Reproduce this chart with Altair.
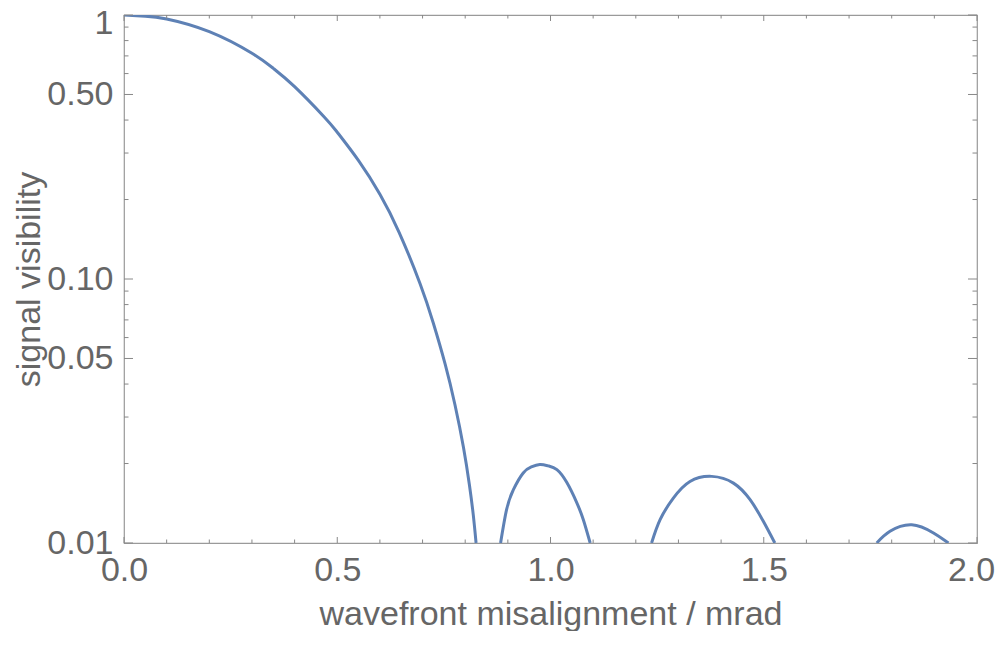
import altair as alt
import pandas as pd

# ---- data ----
main_x = [0.0, 0.05, 0.1, 0.2, 0.3, 0.35, 0.4, 0.47, 0.5, 0.55, 0.6, 0.645, 0.694, 0.725, 0.753, 0.776, 0.796, 0.81, 0.819, 0.8255]
main_y = [1.0, 0.9897, 0.9661, 0.865, 0.7161, 0.6281, 0.5351, 0.4102, 0.3597, 0.2807, 0.2094, 0.1503, 0.0962, 0.0683, 0.0476, 0.0334, 0.0230, 0.01655, 0.01275, 0.0100]

lobe1_x = [0.883, 0.897, 0.913, 0.936, 0.955, 0.975, 0.995, 1.015, 1.038, 1.061, 1.077, 1.093]
lobe1_y = [0.0100, 0.01337, 0.01592, 0.01841, 0.01941, 0.01982, 0.01959, 0.01897, 0.01698, 0.01429, 0.01225, 0.0100]

lobe2_x = [1.237, 1.257, 1.288, 1.327, 1.378, 1.429, 1.468, 1.499, 1.526]
lobe2_y = [0.0100, 0.01226, 0.01479, 0.01710, 0.01788, 0.01686, 0.01459, 0.01208, 0.0100]

lobe3_x = [1.765, 1.796, 1.847, 1.898, 1.933]
lobe3_y = [0.0100, 0.01107, 0.01172, 0.01091, 0.0100]

x_major = [0.0, 0.5, 1.0, 1.5, 2.0]
x_minor = [0.1, 0.2, 0.3, 0.4, 0.6, 0.7, 0.8, 0.9, 1.1, 1.2, 1.3, 1.4, 1.6, 1.7, 1.8, 1.9]
y_major = [0.01, 0.05, 0.1, 0.5, 1.0]
y_minor = [0.02, 0.03, 0.04, 0.06, 0.07, 0.08, 0.09, 0.2, 0.3, 0.4, 0.6, 0.7, 0.8, 0.9]

x_title = "wavefront misalignment / mrad"
y_title = "signal visibility"

# ---- build tables ----
rows = []
for seg, (xs, ys) in enumerate([(main_x, main_y), (lobe1_x, lobe1_y), (lobe2_x, lobe2_y), (lobe3_x, lobe3_y)]):
    for a, b in zip(xs, ys):
        rows.append({"x": a, "y": b, "seg": seg})
df = pd.DataFrame(rows)

W, H = 853, 528
FONT = "Liberation Sans"
LABEL = "#666666"
TICK = "#888888"

xscale = alt.Scale(domain=[0, 2], nice=False, zero=False)
yscale = alt.Scale(type="log", domain=[0.01, 1], nice=False)

line = alt.Chart(df).mark_line(
    color="#5E81B5", strokeWidth=3, clip=True, interpolate="natural"
).encode(
    x=alt.X("x:Q", scale=xscale, axis=alt.Axis(
        values=x_major, format=".1f", ticks=False, domain=False, grid=False,
        labelFlush=False, labelOverlap=False,
        labelFont=FONT, labelFontSize=34, labelColor=LABEL, labelPadding=10,
        labelOffset={"condition": {"test": "datum.value == 2", "value": -6}, "value": 0},
        title=x_title, titleFont=FONT, titleFontSize=34, titleFontWeight="normal",
        titleColor=LABEL, titlePadding=10)),
    y=alt.Y("y:Q", scale=yscale, axis=alt.Axis(
        values=y_major, labelExpr="datum.value == 1 ? '1' : format(datum.value, '.2f')",
        ticks=False, domain=False, grid=False, labelFlush=False, labelOverlap=False,
        labelFont=FONT, labelFontSize=34, labelColor=LABEL, labelPadding=11,
        labelOffset={"condition": {"test": "datum.value == 1", "value": 8}, "value": 0},
        title=y_title, titleFont=FONT, titleFontSize=34, titleFontWeight="normal",
        titleColor=LABEL, titlePadding=0)),
    detail="seg:N",
)

xmaj = pd.DataFrame({"x": x_major})
xmin = pd.DataFrame({"x": x_minor})
ymaj = pd.DataFrame({"y": y_major})
ymin = pd.DataFrame({"y": y_minor})


def xticks(data, length):
    base = alt.Chart(data).mark_rule(color=TICK, strokeWidth=1)
    bottom = base.encode(x=alt.X("x:Q", scale=xscale), y=alt.value(H), y2=alt.value(H - length))
    top = base.encode(x=alt.X("x:Q", scale=xscale), y=alt.value(0), y2=alt.value(length))
    return [bottom, top]


def yticks(data, length):
    base = alt.Chart(data).mark_rule(color=TICK, strokeWidth=1)
    left = base.encode(y=alt.Y("y:Q", scale=yscale), x=alt.value(0), x2=alt.value(length))
    right = base.encode(y=alt.Y("y:Q", scale=yscale), x=alt.value(W), x2=alt.value(W - length))
    return [left, right]


layers = [line] + xticks(xmaj, 6) + xticks(xmin, 3.5) + yticks(ymaj, 9) + yticks(ymin, 4.5)

chart = alt.layer(*layers).properties(
    width=W, height=H,
    autosize=alt.AutoSizeParams(type="none"),
    padding={"left": 116, "top": 7, "right": 18, "bottom": 88},
).configure_view(stroke="#9a9a9a", strokeWidth=1.2)

chart.save("out.html", embed_options={"renderer": "svg", "actions": False})
